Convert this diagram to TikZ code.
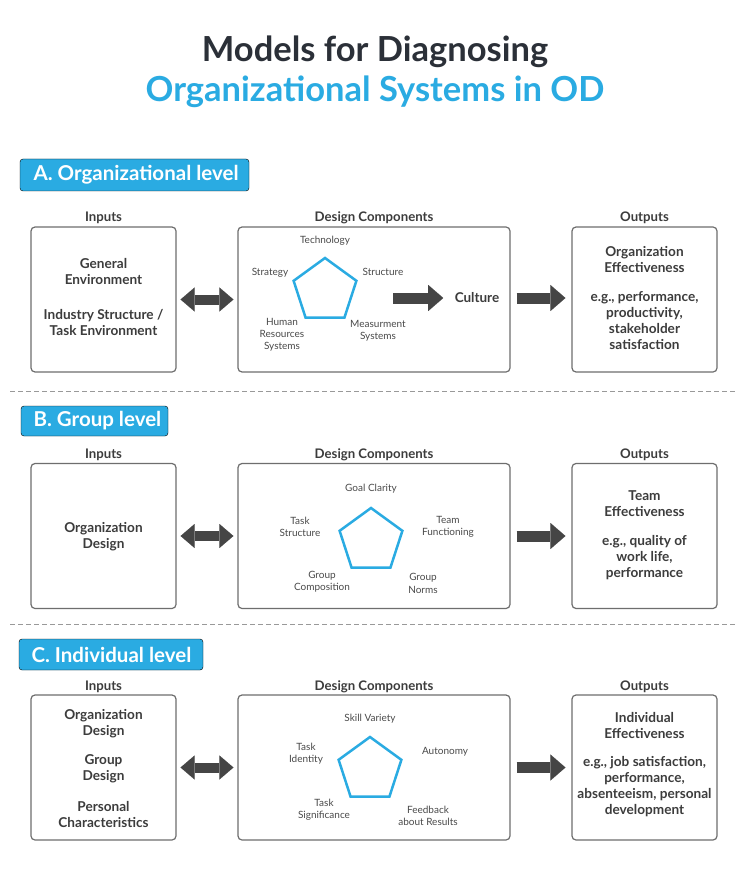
\documentclass[tikz,border=0pt]{standalone}
\usepackage{fontspec}
\setmainfont{Lato}
\usetikzlibrary{arrows.meta,shapes.geometric}
\definecolor{odblue}{HTML}{2AABE2}
\definecolor{oddark}{HTML}{2B3038}
\definecolor{odtext}{HTML}{3C3C3C}
\definecolor{odlabel}{HTML}{4A4A4A}
\definecolor{odarrow}{HTML}{454545}
\definecolor{odframe}{HTML}{6E6E6E}
\tikzset{
	panel/.style={draw=odframe, line width=1.2pt, rounded corners=4pt, minimum width=145pt, minimum height=145pt, inner sep=0pt},
	wide panel/.style={panel, minimum width=272pt},
	boxtext/.style={align=center, text=odtext, font=\fontsize{13.6}{16}\selectfont\bfseries},
	coltitle/.style={text=odtext, font=\fontsize{13.2}{15}\selectfont\bfseries},
	comp/.style={align=center, text=odlabel, font=\fontsize{10}{12.2}\selectfont},
	penta/.style={regular polygon, regular polygon sides=5, minimum size=66pt, inner sep=0pt, draw=odblue, line width=2.5pt},
	headbox/.style={fill=odblue, rounded corners=3pt},
	headtext/.style={anchor=west, text=white, font=\fontsize{20.5}{22}\selectfont\bfseries},
	fatarrow/.style={draw=odarrow, line width=11pt, -{Triangle[length=15pt,width=26pt,line width=0.01pt]}},
	twoway/.style={draw=odarrow, line width=10pt, {Triangle[length=14pt,width=24pt,line width=0.01pt]}-{Triangle[length=14pt,width=24pt,line width=0.01pt]}},
	sep/.style={draw=black!40, line width=0.8pt, dash pattern=on 5pt off 3pt}
}

\begin{document}
\begin{tikzpicture}[x=1pt, y=-1pt]
			%%%%% START %%%%%
			\useasboundingbox[fill=white] (0, 0) rectangle (750, 874);
			
			\node[text=oddark, font=\fontsize{34.5}{38}\selectfont\bfseries] (title1) at (375, 52) {Models for Diagnosing};
			\node[text=odblue, font=\fontsize{34.5}{38}\selectfont\bfseries] (title2) at (375, 92) {Organizational Systems in OD};
			
			%%%%% A. organizational level %%%%%
			\draw[headbox] (20, 159) rectangle (249, 191);
			\node[headtext] (headA) at (30, 175) {A. Organizational level};
			
			\node[coltitle] (inlabA) at (103.5, 218) {Inputs};
			\node[coltitle] (dslabA) at (374, 218) {Design Components};
			\node[coltitle] (outlabA) at (644.5, 218) {Outputs};
			
			\node[panel] (inA) at (103.5, 299.5) {};
			\node[wide panel] (dsA) at (374, 299.5) {};
			\node[panel] (outA) at (644.5, 299.5) {};
			
			\node[boxtext] (genA) at (103.5, 272) {General\\Environment};
			\node[boxtext] (indA) at (103.5, 323) {Industry Structure /\\Task Environment};
			
			\node[penta] (pentA) at (325, 291) {};
			\node[comp] (techA) at (325, 241) {Technology};
			\node[comp] (stratA) at (270, 273) {Strategy};
			\node[comp] (structA) at (383, 272) {Structure};
			\node[comp] (hrA) at (282, 335) {Human\\Resources\\Systems};
			\node[comp] (measA) at (378, 331) {Measurment\\Systems};
			
			\coordinate (cA) at (393, 298);
			\node[text=odtext, font=\fontsize{13.5}{16}\selectfont\bfseries] (culA) at (477, 298) {Culture};
			
			\node[boxtext] (effA) at (644.5, 259) {Organization\\Effectiveness};
			\node[boxtext] (egA) at (644.5, 321) {e.g., performance,\\productivity,\\stakeholder\\satisfaction};
			
			\draw[twoway, shorten <=4pt, shorten >=4pt] (inA.east) -- (dsA.west);
			\draw[fatarrow, shorten >=8pt] (cA) -- (culA.west);
			\draw[fatarrow, shorten <=6pt, shorten >=6pt] (dsA.east |- cA) -- (outA.west |- cA);
			
			\draw[sep] (10, 391) -- (737, 391);
			
			%%%%% B. group level %%%%%
			\draw[headbox] (21, 406) rectangle (168, 436);
			\node[headtext] (headB) at (30, 421) {B. Group level};
			
			\node[coltitle] (inlabB) at (103.5, 455) {Inputs};
			\node[coltitle] (dslabB) at (374, 455) {Design Components};
			\node[coltitle] (outlabB) at (644.5, 455) {Outputs};
			
			\node[panel] (inB) at (103.5, 536) {};
			\node[wide panel] (dsB) at (374, 536) {};
			\node[panel] (outB) at (644.5, 536) {};
			
			\node[boxtext] (orgB) at (103.5, 537) {Organization\\Design};
			
			\node[penta] (pentB) at (371, 541) {};
			\node[comp] (goalB) at (371, 489) {Goal Clarity};
			\node[comp] (taskB) at (300, 526.5) {Task\\Structure};
			\node[comp] (teamB) at (448, 526.5) {Team\\Functioning};
			\node[comp] (compB) at (322, 581.5) {Group\\Composition};
			\node[comp] (normB) at (423, 583.5) {Group\\Norms};
			
			\node[boxtext] (effB) at (644.5, 504) {Team\\Effectiveness};
			\node[boxtext] (egB) at (644.5, 558) {e.g., quality of\\work life,\\performance};
			
			\draw[twoway, shorten <=4pt, shorten >=4pt] (inB.east) -- (dsB.west);
			\draw[fatarrow, shorten <=6pt, shorten >=6pt] (dsB.east) -- (outB.west);
			
			\draw[sep] (10, 624) -- (737, 624);
			
			%%%%% C. individual level %%%%%
			\draw[headbox] (19, 639) rectangle (203, 670);
			\node[headtext] (headC) at (28, 654.5) {C. Individual level};
			
			\node[coltitle] (inlabC) at (103.5, 687) {Inputs};
			\node[coltitle] (dslabC) at (374, 687) {Design Components};
			\node[coltitle] (outlabC) at (644.5, 687) {Outputs};
			
			\node[panel] (inC) at (103.5, 767.5) {};
			\node[wide panel] (dsC) at (374, 767.5) {};
			\node[panel] (outC) at (644.5, 767.5) {};
			
			\node[boxtext] (orgC) at (103.5, 724) {Organization\\Design};
			\node[boxtext] (grpC) at (103.5, 769) {Group\\Design};
			\node[boxtext] (persC) at (103.5, 814) {Personal\\Characteristics};
			
			\node[penta] (pentC) at (370, 770) {};
			\node[comp] (skillC) at (370, 719) {Skill Variety};
			\node[comp] (idC) at (306, 754) {Task\\Identity};
			\node[comp] (autoC) at (445, 752) {Autonomy};
			\node[comp] (sigC) at (324, 810) {Task\\Significance};
			\node[comp] (feedC) at (428, 816) {Feedback\\about Results};
			
			\node[boxtext] (effC) at (644.5, 725.5) {Individual\\Effectiveness};
			\node[boxtext] (egC) at (644.5, 787) {e.g., job satisfaction,\\performance,\\absenteeism, personal\\development};
			
			\draw[twoway, shorten <=4pt, shorten >=4pt] (inC.east) -- (dsC.west);
			\draw[fatarrow, shorten <=6pt, shorten >=6pt] (dsC.east) -- (outC.west);
			
			%%%%% END %%%%%
\end{tikzpicture}
\end{document}
